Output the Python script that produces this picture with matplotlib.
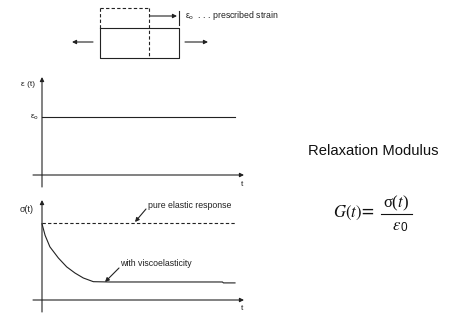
import matplotlib
matplotlib.use("Agg")
import matplotlib.pyplot as plt

# ---------------- data ----------------
t_end = 10.0
strain_level = [1.0, 1.0]          # epsilon_0 (prescribed strain), constant
strain_t = [0.0, t_end]
elastic_level = [1.0, 1.0]         # pure elastic response
elastic_t = [0.0, t_end]
visco_t = [0.0, 0.16, 0.41, 0.85, 1.28, 1.71, 2.14, 2.66, 3.5, 9.35, 9.4, 10.0]
visco_s = [0.99, 0.84, 0.69, 0.545, 0.43, 0.35, 0.286, 0.238, 0.234, 0.234, 0.222, 0.222]

W, H = 474, 326
fig = plt.figure(figsize=(W / 100, H / 100), dpi=100)
fig.patch.set_facecolor("white")

LC = "#222222"
LW = 0.8
SANS = ["Liberation Sans", "DejaVu Sans"]
SERIF = ["Liberation Serif", "DejaVu Serif"]
FS = 6.0

def pix_axes(x0, y0, x1, y1):
    return fig.add_axes([x0 / W, 1 - y1 / H, (x1 - x0) / W, (y1 - y0) / H])

# overlay in pixel coordinates for the schematic and text
ov = fig.add_axes([0, 0, 1, 1])
ov.set_xlim(0, W)
ov.set_ylim(H, 0)
ov.axis("off")

def arrow(ax, p0, p1, ms=6):
    ax.annotate("", xy=p1, xytext=p0,
                arrowprops=dict(arrowstyle="-|>", lw=LW, color=LC,
                                mutation_scale=ms, shrinkA=0, shrinkB=0))

# ---- top schematic ----
ov.plot([100, 149], [8, 8], ls=(0, (3, 2)), color=LC, lw=LW)
ov.plot([100, 100], [8, 28], ls=(0, (3, 2)), color=LC, lw=LW)
ov.plot([149, 149], [8, 58], ls=(0, (3, 2)), color=LC, lw=LW)
ov.plot([100, 179, 179, 100, 100], [28, 28, 58, 58, 28], color=LC, lw=LW)
arrow(ov, (150, 16), (177, 16), ms=6)
ov.plot([179, 179], [11, 25], color=LC, lw=LW)
ov.text(185, 16, "ε$_{\\mathsf{o}}$  . . . prescribed strain", fontsize=FS + 0.3, family=SANS,
        va="center", ha="left", color=LC)
arrow(ov, (93, 42), (72, 42), ms=6)
arrow(ov, (185, 42), (208, 42), ms=6)

# ---- graph 1: strain ----
a1 = pix_axes(30, 70, 250, 190)
px_per_t = 19.3
a1.set_xlim((30 - 42) / px_per_t, (250 - 42) / px_per_t)
a1.set_ylim((175 - 190) / 58, (175 - 70) / 58)
a1.axis("off")
arrow(a1, ((33 - 42) / px_per_t, 0), ((244 - 42) / px_per_t, 0))
arrow(a1, (0, (175 - 187) / 58), (0, (175 - 77) / 58))
a1.plot(strain_t, strain_level, color=LC, lw=LW)

ov.text(28, 85, "ε (t)", fontsize=FS, family=SANS, ha="center", va="center", color=LC)
ov.text(39, 117, "ε$_{\\mathsf{o}}$", fontsize=FS, family=SANS, ha="right", va="center", color=LC)
ov.text(242, 184, "t", fontsize=FS, family=SANS, ha="center", va="center", color=LC)

# ---- graph 2: stress ----
a2 = pix_axes(30, 195, 250, 315)
a2.set_xlim((30 - 42) / px_per_t, (250 - 42) / px_per_t)
a2.set_ylim((300 - 315) / 77, (300 - 195) / 77)
a2.axis("off")
arrow(a2, ((33 - 42) / px_per_t, 0), ((244 - 42) / px_per_t, 0))
arrow(a2, (0, (300 - 312) / 77), (0, (300 - 200) / 77))
a2.plot(elastic_t, elastic_level, color=LC, lw=LW, ls=(0, (3, 2)))
a2.plot(visco_t, visco_s, color=LC, lw=LW)

ov.text(27, 210, "σ(t)", fontsize=6.5, family=SANS, ha="center", va="center", color=LC)
ov.text(242, 309, "t", fontsize=FS, family=SANS, ha="center", va="center", color=LC)
ov.text(148, 205, "pure elastic response", fontsize=FS + 0.3, family=SANS, ha="left",
        va="center", color=LC)
arrow(ov, (146, 209), (135, 222), ms=6)
ov.text(120, 264, "with viscoelasticity", fontsize=FS + 0.3, family=SANS, ha="left",
        va="center", color=LC)
arrow(ov, (119, 268), (105, 282), ms=6)

# ---- right side ----
ov.text(308, 151, "Relaxation Modulus", fontsize=10.6, family=SANS, ha="left",
        va="center", color="#111111")
ov.text(333, 213, "$G(t)$=", fontsize=12, ha="left", va="center", color="#111111",
        math_fontfamily="stix")
ov.text(396, 203, "σ($t$)", fontsize=12, family=SERIF, ha="center", va="center",
        color="#111111", math_fontfamily="stix")
ov.plot([381, 412], [214, 214], color="#111111", lw=LW)
ov.text(401, 225, "$\\varepsilon$", fontsize=12, ha="right", va="center", color="#111111",
        math_fontfamily="stix")
ov.text(401, 228, "0", fontsize=8.5, family=SANS, ha="left", va="center", color="#111111")

fig.savefig("out.png", dpi=100, facecolor="white")
